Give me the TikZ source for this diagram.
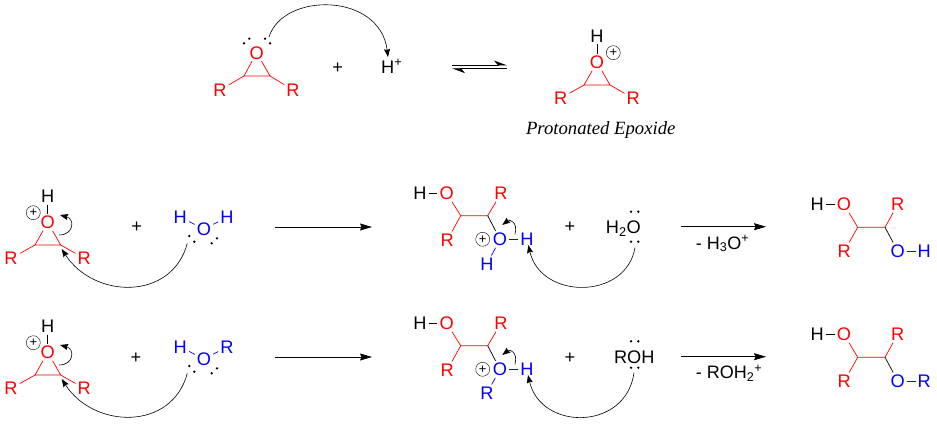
\documentclass[tikz,border=0pt]{standalone}
\usepackage{fontspec}
\setmainfont{Liberation Sans}
\newfontfamily\captionfont{Liberation Serif}
\usetikzlibrary{arrows.meta}
\begin{document}
\begin{tikzpicture}[x=1pt,y=-1pt]
    \tikzset{atom/.style = {inner sep=2pt, text height=12.6pt, text depth=0pt, font=\fontsize{18.2}{20}\selectfont},
             rosso/.style = {atom, text=red},
             blu/.style = {atom, text=blue},
             nero/.style = {atom, text=black},
             carica/.style = {draw, circle, minimum size=14pt, inner sep=0pt, font=\fontsize{13}{13}\selectfont},
             nota/.style = {inner sep=0pt, font=\fontsize{18}{20}\selectfont},
             legame/.style = {line width=0.7pt},
             freccia/.style = {line width=0.8pt, -{Stealth[length=12pt,width=7pt,inset=1.5pt]}},
             curva/.style = {line width=0.6pt, -{Stealth[length=8pt,width=6pt,inset=1pt]}}}
    \def\d{1.3}
    \useasboundingbox (0,0) rectangle (937,423);

    % epossido sopra
    \node [rosso] (oa) at (256.7,52.7) {O};
    \node [rosso] (ra) at (220,90) {R};
    \node [rosso] (rb) at (293,90) {R};
    \coordinate (ca) at (244,76);
    \coordinate (cb) at (270,76);
    \draw [legame, red] (oa) -- (ca) -- (cb) -- (oa);
    \draw [legame, red] (ca) -- (ra);
    \draw [legame, red] (cb) -- (rb);
    \fill (244,43.3) circle (\d) (249.3,38.7) circle (\d) (265,38.7) circle (\d) (270,43.3) circle (\d);
    \node [nero] (piua) at (337.7,66.7) {+};
    \node [nero, anchor=west, inner sep=0pt] (h) at (381,66.7) {H\textsuperscript{+}};
    \coordinate (da) at (269,37);
    \coordinate (db) at (388,57);
    \draw [curva] (da) .. controls (283,-8) and (380,-8) .. (db);

    % equilibrio
    \coordinate (ea) at (452,65);
    \coordinate (eb) at (507,65);
    \coordinate (ec) at (507,68.7);
    \coordinate (ed) at (452,68.7);
    \draw [line width=0.8pt, -{Stealth[length=12pt,width=9pt,harpoon]}] (ea) -- (eb);
    \draw [line width=0.8pt, -{Stealth[length=12pt,width=9pt,harpoon]}] (ec) -- (ed);

    % epossido protonato
    \node [nero] (ha) at (597,35.7) {H};
    \node [rosso] (ob) at (597,62.3) {O};
    \node [carica] (qa) at (613.3,52.7) {+};
    \node [rosso] (rc) at (560.7,98.3) {R};
    \node [rosso] (rd) at (633.3,98.3) {R};
    \coordinate (cc) at (584,85);
    \coordinate (cd) at (610,85);
    \draw [legame] (ha) -- (ob);
    \draw [legame, red] (ob) -- (cc) -- (cd) -- (ob);
    \draw [legame, red] (cc) -- (rc);
    \draw [legame, red] (cd) -- (rd);
    \node [inner sep=0pt, font=\captionfont\itshape\fontsize{18.7}{20}\selectfont] (titolo) at (600.7,130) {Protonated Epoxide};

    % riga due, a sinistra
    \node [nero] (hb) at (47.7,196) {H};
    \node [rosso] (oc) at (47.7,222.3) {O};
    \node [carica] (qb) at (33.3,212.7) {+};
    \node [rosso] (re) at (11,258.3) {R};
    \node [rosso] (rf) at (84.3,258.3) {R};
    \coordinate (ce) at (35,245);
    \coordinate (cf) at (60.7,245);
    \draw [legame] (hb) -- (oc);
    \draw [legame, red] (oc) -- (ce) -- (cf) -- (oc);
    \draw [legame, red] (ce) -- (re);
    \draw [legame, red] (cf) -- (rf);
    \coordinate (dc) at (59,235);
    \coordinate (dd) at (60,215);
    \draw [curva] (dc) .. controls (74,235) and (75,219) .. (dd);
    \node [nero] (piub) at (136.7,226) {+};
    \node [blu] (hc) at (180.3,217.3) {H};
    \node [blu] (od) at (204,229) {O};
    \node [blu] (hd) at (227,217.3) {H};
    \draw [legame, blue] (hc) -- (od) -- (hd);
    \fill (189.3,236) circle (\d) (194.3,241.7) circle (\d) (211.7,243.3) circle (\d) (217,238.3) circle (\d);
    \coordinate (de) at (187.3,243.3);
    \coordinate (df) at (61.7,249);
    \draw [curva] (de) .. controls (172,301) and (94,299) .. (df);
    \coordinate (fa) at (275,227);
    \coordinate (fb) at (372,227);
    \draw [freccia] (fa) -- (fb);

    % riga due, al centro
    \node [nero] (he) at (420,193.3) {H};
    \node [rosso] (oe) at (446.7,193.3) {O};
    \node [rosso] (rg) at (501,193.3) {R};
    \node [rosso] (rh) at (447.3,240) {R};
    \node [carica] (qc) at (482.7,239.3) {+};
    \node [blu] (of) at (500,239.3) {O};
    \node [blu] (hf) at (527,239.3) {H};
    \node [blu] (hg) at (487,264) {H};
    \coordinate (cg) at (460.7,215.7);
    \coordinate (ch) at (487.7,215.7);
    \draw [legame] (he) -- (oe);
    \draw [legame, red] (oe) -- (cg) -- (ch) -- (rg);
    \draw [legame, red] (cg) -- (rh);
    \draw [legame] (ch) -- (of);
    \draw [legame, blue] (of) -- (hf);
    \draw [legame, blue] (of) -- (hg);
    \coordinate (dg) at (515,234.3);
    \coordinate (dh) at (502.3,225);
    \draw [curva] (dg) .. controls (518,222) and (510,219) .. (dh);
    \node [nero] (piuc) at (570,226) {+};
    \node [nero, anchor=east, inner sep=0pt] (acqua) at (641,227.3) {H\textsubscript{2}O};
    \fill (631,211.7) circle (\d) (638.3,211.7) circle (\d) (631,241.7) circle (\d) (638.3,241.7) circle (\d);
    \coordinate (di) at (635,247.7);
    \coordinate (dj) at (528.3,245);
    \draw [curva] (di) .. controls (626,300) and (541,300) .. (dj);
    \coordinate (fc) at (681,226.7);
    \coordinate (fd) at (766,226.7);
    \draw [freccia] (fc) -- (fd);
    \node [nota, anchor=base west] (notaa) at (695.7,249) {- H\textsubscript{3}O\textsuperscript{+}};

    % riga due, a destra
    \node [nero] (hh) at (817.3,204.3) {H};
    \node [rosso] (og) at (844,204.3) {O};
    \node [rosso] (ri) at (897.7,204.3) {R};
    \node [rosso] (rj) at (844.3,251) {R};
    \node [blu] (oh) at (897.7,251) {O};
    \node [blu] (hi) at (924.3,251) {H};
    \coordinate (ci) at (857.7,227.3);
    \coordinate (cj) at (885,227.3);
    \draw [legame] (hh) -- (og);
    \draw [legame, red] (og) -- (ci) -- (cj) -- (ri);
    \draw [legame, red] (ci) -- (rj);
    \draw [legame] (cj) -- (oh);
    \draw [legame, blue] (oh) -- (hi);

    % riga tre, a sinistra
    \node [nero] (hl) at (47.7,326) {H};
    \node [rosso] (oi) at (47.7,352.3) {O};
    \node [carica] (qd) at (33.3,342.7) {+};
    \node [rosso] (rl) at (11,388.5) {R};
    \node [rosso] (rm) at (84.3,388.5) {R};
    \coordinate (cl) at (35,375);
    \coordinate (cm) at (60.7,375);
    \draw [legame] (hl) -- (oi);
    \draw [legame, red] (oi) -- (cl) -- (cm) -- (oi);
    \draw [legame, red] (cl) -- (rl);
    \draw [legame, red] (cm) -- (rm);
    \coordinate (dl) at (59,365);
    \coordinate (dm) at (60,345);
    \draw [curva] (dl) .. controls (74,365) and (75,349) .. (dm);
    \node [nero] (piud) at (136,356.7) {+};
    \node [blu] (hm) at (180.3,346.7) {H};
    \node [blu] (ol) at (204,359.3) {O};
    \node [blu] (rn) at (227,346.7) {R};
    \draw [legame, blue] (hm) -- (ol) -- (rn);
    \fill (189.3,366) circle (\d) (194.3,371.7) circle (\d) (211.7,373.3) circle (\d) (217,368.3) circle (\d);
    \coordinate (dn) at (187.3,373.3);
    \coordinate (do) at (61.7,379);
    \draw [curva] (dn) .. controls (172,431) and (94,429) .. (do);
    \coordinate (fe) at (275,357);
    \coordinate (ff) at (372,357);
    \draw [freccia] (fe) -- (ff);

    % riga tre, al centro
    \node [nero] (hn) at (420,323.3) {H};
    \node [rosso] (om) at (446.7,323.3) {O};
    \node [rosso] (ro) at (501,323.3) {R};
    \node [rosso] (rp) at (447.3,370) {R};
    \node [carica] (qe) at (482.7,369.3) {+};
    \node [blu] (on) at (500,369.3) {O};
    \node [blu] (ho) at (527,369.3) {H};
    \node [blu] (rq) at (487,393) {R};
    \coordinate (cn) at (460.7,345.7);
    \coordinate (co) at (487.7,345.7);
    \draw [legame] (hn) -- (om);
    \draw [legame, red] (om) -- (cn) -- (co) -- (ro);
    \draw [legame, red] (cn) -- (rp);
    \draw [legame] (co) -- (on);
    \draw [legame, blue] (on) -- (ho);
    \draw [legame, blue] (on) -- (rq);
    \coordinate (dp) at (515,364.3);
    \coordinate (dq) at (502.3,355);
    \draw [curva] (dp) .. controls (518,352) and (510,349) .. (dq);
    \node [nero] (piue) at (570,356.7) {+};
    \node [nero] (alcol) at (634.3,356.7) {ROH};
    \fill (631,341.3) circle (\d) (638.3,341.3) circle (\d) (631,367.7) circle (\d) (638.3,367.7) circle (\d);
    \coordinate (dr) at (634,372.7);
    \coordinate (ds) at (528,375);
    \draw [curva] (dr) .. controls (626,431) and (541,431) .. (ds);
    \coordinate (fg) at (681,356.7);
    \coordinate (fh) at (766,356.7);
    \draw [freccia] (fg) -- (fh);
    \node [nota, anchor=base west] (notab) at (695.7,378.3) {- ROH\textsubscript{2}\textsuperscript{+}};

    % riga tre, a destra
    \node [nero] (hp) at (817.3,334.3) {H};
    \node [rosso] (oo) at (844,334.3) {O};
    \node [rosso] (rr) at (897.7,334.3) {R};
    \node [rosso] (rs) at (844.3,381) {R};
    \node [blu] (op) at (897.7,381) {O};
    \node [blu] (rt) at (924.3,381) {R};
    \coordinate (cp) at (857.7,357.3);
    \coordinate (cq) at (885,357.3);
    \draw [legame] (hp) -- (oo);
    \draw [legame, red] (oo) -- (cp) -- (cq) -- (rr);
    \draw [legame, red] (cp) -- (rs);
    \draw [legame] (cq) -- (op);
    \draw [legame, blue] (op) -- (rt);
\end{tikzpicture}
\end{document}
